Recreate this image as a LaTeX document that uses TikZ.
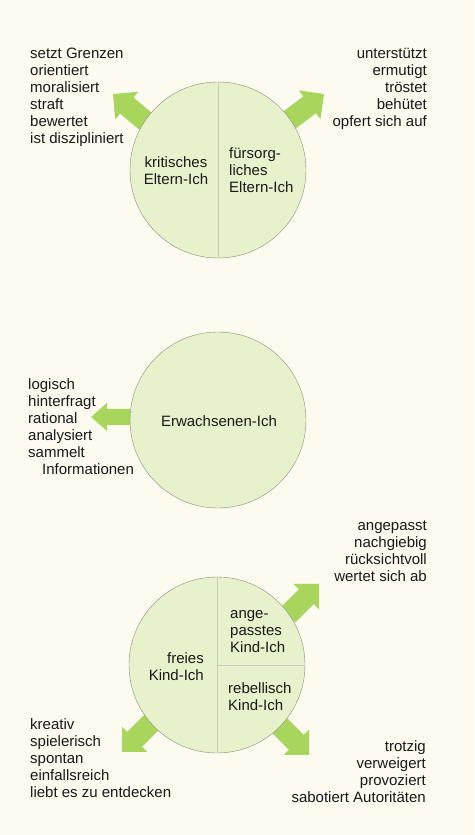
\documentclass[tikz,border=0pt]{standalone}
\usepackage{fontspec}
\setmainfont{Liberation Sans}
\definecolor{hintergrund}{HTML}{FDFAF0}
\definecolor{kreis}{HTML}{E7F2CC}
\definecolor{rand}{HTML}{84907C}
\definecolor{teiler}{HTML}{C8CCB8}
\definecolor{pfeilgruen}{HTML}{A8D65C}
\tikzset{
  ich/.style={circle, draw=rand, fill=kreis, thin, minimum size=176pt, inner sep=0pt},
  liste/.style={inner sep=0pt, text=black!90, font=\fontsize{15}{17}\selectfont},
}
\begin{document}
\begin{tikzpicture}[x=1pt,y=1pt]
    \fill[hintergrund] (0,0) rectangle (474,835);
    \useasboundingbox (0,0) rectangle (474,835);

    % Pfeile
    \foreach \x/\y/\w in {113/741/140, 324/741/37, 319/251/45, 122/83/225, 309/80/315}{%
        \fill[pfeilgruen, shift={(\x,\y)}, rotate=\w]
            (0,0) -- (-18,18) -- (-18,10.5) -- (-44,10.5) -- (-44,-10.5) -- (-18,-10.5) -- (-18,-18) -- cycle;}
    \fill[pfeilgruen, shift={(91,418)}]
        (0,0) -- (16,14) -- (16,8) -- (39,8) -- (39,-8) -- (16,-8) -- (16,-14) -- cycle;

    % Kreise
    \node [ich] (eltern)    at (218,665) {};
    \node [ich] (erwachsen) at (218,415) {};
    \node [ich] (kind)      at (217,170) {};
    \draw [teiler] (eltern.north) -- (eltern.south);
    \draw [teiler] (kind.north) -- (kind.south);
    \draw [teiler] (kind.center) -- (kind.east);

    % Eltern-Ich
    \node [liste, anchor=north, align=center] (kritisch) at (176,679) {kritisches\\Eltern-Ich};
    \node [liste, anchor=north west, align=left] (fuersorg) at (229,688) {fürsorg-\\liches\\Eltern-Ich};
    \node [liste, anchor=north west, align=left] (kritischListe) at (30,787)
        {setzt Grenzen\\orientiert\\moralisiert\\straft\\bewertet\\ist diszipliniert};
    \node [liste, anchor=north east, align=right] (fuersorgListe) at (427,787)
        {unterstützt\\ermutigt\\tröstet\\behütet\\opfert sich auf};

    % Erwachsenen-Ich
    \node [liste] (erwachsenText) at (219,414) {Erwachsenen-Ich};
    \node [liste, anchor=north west, align=left] (erwachsenListe) at (28,457)
        {logisch\\hinterfragt\\rational\\analysiert\\sammelt\\\hspace*{14pt}Informationen};

    % Kind-Ich
    \node [liste, anchor=north east, align=right] (frei) at (204,183) {freies\\Kind-Ich};
    \node [liste, anchor=north west, align=left] (angepasst) at (230,225) {ange-\\passtes\\Kind-Ich};
    \node [liste, anchor=north west, align=left] (rebellisch) at (228,153) {rebellisch\\Kind-Ich};
    \node [liste, anchor=north east, align=right] (angepasstListe) at (427,314)
        {angepasst\\nachgiebig\\rücksichtvoll\\wertet sich ab};
    \node [liste, anchor=north west, align=left] (freiListe) at (30,117)
        {kreativ\\spielerisch\\spontan\\einfallsreich\\liebt es zu entdecken};
    \node [liste, anchor=north east, align=right] (rebellischListe) at (426,95)
        {trotzig\\verweigert\\provoziert\\sabotiert Autoritäten};
\end{tikzpicture}
\end{document}
